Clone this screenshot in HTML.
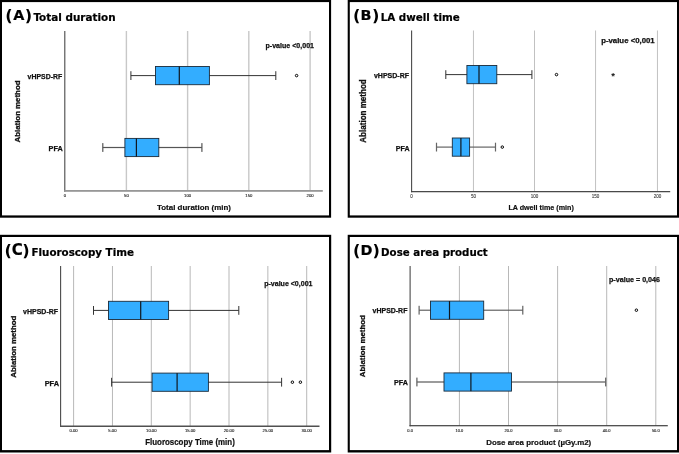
<!DOCTYPE html>
<html><head><meta charset="utf-8"><title>Figure</title>
<style>html,body{margin:0;padding:0;background:#fff;}svg{display:block;}</style></head>
<body><svg width="679" height="454" viewBox="0 0 679 454">
<rect width="679" height="454" fill="#fff"/>
<rect x="0" y="0" width="331.10" height="217.70" fill="#000"/>
<rect x="2.0" y="2.1" width="327.00" height="213.30" fill="#fff"/>
<rect x="125.70" y="31" width="1.4" height="159.90" fill="#c8c8c8"/>
<rect x="186.90" y="31" width="1.4" height="159.90" fill="#c8c8c8"/>
<rect x="248.10" y="31" width="1.4" height="159.90" fill="#c8c8c8"/>
<rect x="309.40" y="31" width="1.4" height="159.90" fill="#c8c8c8"/>
<rect x="130.90" y="75.10" width="144.90" height="1" fill="#333"/>
<rect x="130.40" y="71.20" width="1" height="8.80" fill="#333"/>
<rect x="275.30" y="71.20" width="1" height="8.80" fill="#333"/>
<rect x="155.50" y="66.50" width="53.90" height="18.20" fill="#33adff" stroke="#1a2a3a" stroke-width="0.9"/>
<rect x="178.70" y="66.50" width="1.2" height="18.20" fill="#101820"/>
<circle cx="296.60" cy="75.60" r="1.25" fill="#fff" stroke="#000" stroke-width="1.0"/>
<rect x="102.80" y="146.90" width="99.10" height="1.2" fill="#555"/>
<rect x="102.20" y="143.10" width="1.2" height="8.80" fill="#555"/>
<rect x="201.30" y="143.10" width="1.2" height="8.80" fill="#555"/>
<rect x="124.90" y="138.40" width="33.90" height="18.20" fill="#33adff" stroke="#1a2a3a" stroke-width="0.9"/>
<rect x="135.80" y="138.40" width="1.2" height="18.20" fill="#101820"/>
<rect x="64.25" y="31" width="1.1" height="160.78" fill="#4a4a4a"/>
<rect x="64.20" y="190.03" width="258.60" height="1.75" fill="#959595"/>
<text x="64.80" y="196.90" font-family='"Liberation Sans", Arial, sans-serif' font-size="4.2" text-anchor="middle" fill="#222" stroke="#222" stroke-width="0.12">0</text>
<text x="126.40" y="196.90" font-family='"Liberation Sans", Arial, sans-serif' font-size="4.2" text-anchor="middle" fill="#222" stroke="#222" stroke-width="0.12">50</text>
<text x="187.60" y="196.90" font-family='"Liberation Sans", Arial, sans-serif' font-size="4.2" text-anchor="middle" fill="#222" stroke="#222" stroke-width="0.12">100</text>
<text x="248.80" y="196.90" font-family='"Liberation Sans", Arial, sans-serif' font-size="4.2" text-anchor="middle" fill="#222" stroke="#222" stroke-width="0.12">150</text>
<text x="310.10" y="196.90" font-family='"Liberation Sans", Arial, sans-serif' font-size="4.2" text-anchor="middle" fill="#222" stroke="#222" stroke-width="0.12">200</text>
<text x="62.20" y="78.60" font-family='"Liberation Sans", Arial, sans-serif' font-size="6.9" font-weight="700" text-anchor="end" fill="#111" stroke="#111" stroke-width="0.25" textLength="34.6" lengthAdjust="spacingAndGlyphs">vHPSD-RF</text>
<text x="62.80" y="150.90" font-family='"Liberation Sans", Arial, sans-serif' font-size="6.9" font-weight="700" text-anchor="end" fill="#111" stroke="#111" stroke-width="0.25" textLength="14.2" lengthAdjust="spacingAndGlyphs">PFA</text>
<text transform="translate(19.80,111.50) rotate(-90)" font-family='"Liberation Sans", Arial, sans-serif' font-size="8" font-weight="700" text-anchor="middle" fill="#111" stroke="#111" stroke-width="0.3" textLength="62" lengthAdjust="spacingAndGlyphs">Ablation method</text>
<text x="157.00" y="210.40" font-family='"Liberation Sans", Arial, sans-serif' font-size="8.1" font-weight="700" fill="#111" stroke="#111" stroke-width="0.2" textLength="74.00" lengthAdjust="spacingAndGlyphs">Total duration (min)</text>
<text x="265.50" y="48.00" font-family='"Liberation Sans", Arial, sans-serif' font-size="7.2" font-weight="700" fill="#111" stroke="#111" stroke-width="0.25" textLength="48.50" lengthAdjust="spacingAndGlyphs">p-value &lt;0,001</text>
<text x="5.30" y="21.00" font-family='"DejaVu Sans", Verdana, sans-serif' font-size="16.2" font-weight="700" fill="#000">(</text>
<text x="18.75" y="20.20" font-family='"DejaVu Sans", Verdana, sans-serif' font-size="14.4" font-weight="700" text-anchor="middle" fill="#000" stroke="#000" stroke-width="0.2">A</text>
<text x="32.20" y="21.00" font-family='"DejaVu Sans", Verdana, sans-serif' font-size="16.2" font-weight="700" text-anchor="end" fill="#000">)</text>
<text x="33.40" y="20.60" font-family='"DejaVu Sans", Verdana, sans-serif' font-size="10.3" font-weight="700" fill="#000" stroke="#000" stroke-width="0.2" textLength="82.20" lengthAdjust="spacingAndGlyphs">Total duration</text>
<rect x="347.7" y="0" width="331.50" height="217.70" fill="#000"/>
<rect x="349.8" y="2.1" width="327.20" height="213.30" fill="#fff"/>
<rect x="472.95" y="30.5" width="0.9" height="161.15" fill="#bababa"/>
<rect x="534.05" y="30.5" width="0.9" height="161.15" fill="#bababa"/>
<rect x="595.15" y="30.5" width="0.9" height="161.15" fill="#bababa"/>
<rect x="656.95" y="30.5" width="0.9" height="161.15" fill="#bababa"/>
<rect x="445.80" y="74.10" width="86.10" height="1" fill="#333"/>
<rect x="445.30" y="70.20" width="1" height="8.80" fill="#333"/>
<rect x="531.40" y="70.20" width="1" height="8.80" fill="#333"/>
<rect x="466.90" y="65.50" width="29.90" height="18.20" fill="#33adff" stroke="#1a2a3a" stroke-width="0.9"/>
<rect x="478.40" y="65.50" width="1.2" height="18.20" fill="#101820"/>
<circle cx="556.50" cy="74.60" r="1.25" fill="#fff" stroke="#000" stroke-width="1.0"/>
<text x="613.00" y="78.90" font-family='"Liberation Sans", Arial, sans-serif' font-size="9.5" font-weight="700" text-anchor="middle" fill="#111">*</text>
<rect x="436.50" y="146.50" width="59.00" height="1.2" fill="#666"/>
<rect x="435.90" y="142.70" width="1.2" height="8.80" fill="#666"/>
<rect x="494.90" y="142.70" width="1.2" height="8.80" fill="#666"/>
<rect x="452.30" y="138.00" width="17.30" height="18.20" fill="#33adff" stroke="#1a2a3a" stroke-width="0.9"/>
<rect x="460.30" y="138.00" width="1.2" height="18.20" fill="#101820"/>
<circle cx="502.30" cy="147.10" r="1.25" fill="#fff" stroke="#000" stroke-width="1.0"/>
<rect x="411.05" y="30.5" width="1.1" height="161.75" fill="#4a4a4a"/>
<rect x="411.00" y="191.05" width="259.20" height="1.2" fill="#404040"/>
<text x="411.60" y="197.75" font-family='"Liberation Sans", Arial, sans-serif' font-size="4.5" text-anchor="middle" fill="#333" stroke="#333" stroke-width="0.08">0</text>
<text x="473.40" y="197.75" font-family='"Liberation Sans", Arial, sans-serif' font-size="4.5" text-anchor="middle" fill="#333" stroke="#333" stroke-width="0.08">50</text>
<text x="534.50" y="197.75" font-family='"Liberation Sans", Arial, sans-serif' font-size="4.5" text-anchor="middle" fill="#333" stroke="#333" stroke-width="0.08">100</text>
<text x="595.60" y="197.75" font-family='"Liberation Sans", Arial, sans-serif' font-size="4.5" text-anchor="middle" fill="#333" stroke="#333" stroke-width="0.08">150</text>
<text x="657.40" y="197.75" font-family='"Liberation Sans", Arial, sans-serif' font-size="4.5" text-anchor="middle" fill="#333" stroke="#333" stroke-width="0.08">200</text>
<text x="409.10" y="78.40" font-family='"Liberation Sans", Arial, sans-serif' font-size="6.9" font-weight="700" text-anchor="end" fill="#111" stroke="#111" stroke-width="0.25" textLength="35.2" lengthAdjust="spacingAndGlyphs">vHPSD-RF</text>
<text x="409.60" y="150.50" font-family='"Liberation Sans", Arial, sans-serif' font-size="6.9" font-weight="700" text-anchor="end" fill="#111" stroke="#111" stroke-width="0.25" textLength="13.8" lengthAdjust="spacingAndGlyphs">PFA</text>
<text transform="translate(366.20,111.00) rotate(-90)" font-family='"Liberation Sans", Arial, sans-serif' font-size="8.3" font-weight="700" text-anchor="middle" fill="#111" stroke="#111" stroke-width="0.3" textLength="63.4" lengthAdjust="spacingAndGlyphs">Ablation method</text>
<text x="508.40" y="209.90" font-family='"Liberation Sans", Arial, sans-serif' font-size="7.4" font-weight="700" fill="#111" stroke="#111" stroke-width="0.2" textLength="65.40" lengthAdjust="spacingAndGlyphs">LA dwell time (min)</text>
<text x="601.20" y="42.70" font-family='"Liberation Sans", Arial, sans-serif' font-size="7.2" font-weight="700" fill="#111" stroke="#111" stroke-width="0.25" textLength="53.50" lengthAdjust="spacingAndGlyphs">p-value &lt;0,001</text>
<text x="353.05" y="21.25" font-family='"DejaVu Sans", Verdana, sans-serif' font-size="16.2" font-weight="700" fill="#000">(</text>
<text x="366.10" y="20.45" font-family='"DejaVu Sans", Verdana, sans-serif' font-size="14.4" font-weight="700" text-anchor="middle" fill="#000" stroke="#000" stroke-width="0.2">B</text>
<text x="379.30" y="21.25" font-family='"DejaVu Sans", Verdana, sans-serif' font-size="16.2" font-weight="700" text-anchor="end" fill="#000">)</text>
<text x="380.70" y="20.85" font-family='"DejaVu Sans", Verdana, sans-serif' font-size="10.3" font-weight="700" fill="#000" stroke="#000" stroke-width="0.2" textLength="79.00" lengthAdjust="spacingAndGlyphs">LA dwell time</text>
<rect x="0" y="234.8" width="331.20" height="217.70" fill="#000"/>
<rect x="2.0" y="237.0" width="327.00" height="213.10" fill="#fff"/>
<rect x="73.10" y="266" width="1.0" height="160.25" fill="#b8b8b8"/>
<rect x="111.95" y="266" width="1.0" height="160.25" fill="#b8b8b8"/>
<rect x="150.80" y="266" width="1.0" height="160.25" fill="#b8b8b8"/>
<rect x="189.65" y="266" width="1.0" height="160.25" fill="#b8b8b8"/>
<rect x="228.50" y="266" width="1.0" height="160.25" fill="#b8b8b8"/>
<rect x="267.35" y="266" width="1.0" height="160.25" fill="#b8b8b8"/>
<rect x="306.20" y="266" width="1.0" height="160.25" fill="#b8b8b8"/>
<rect x="93.50" y="309.90" width="145.30" height="1" fill="#333"/>
<rect x="93.00" y="306.00" width="1" height="8.80" fill="#333"/>
<rect x="238.30" y="306.00" width="1" height="8.80" fill="#333"/>
<rect x="108.50" y="301.30" width="60.10" height="18.20" fill="#33adff" stroke="#1a2a3a" stroke-width="0.9"/>
<rect x="140.10" y="301.30" width="1.2" height="18.20" fill="#101820"/>
<rect x="111.60" y="381.70" width="170.00" height="1" fill="#333"/>
<rect x="111.10" y="377.80" width="1" height="8.80" fill="#333"/>
<rect x="281.10" y="377.80" width="1" height="8.80" fill="#333"/>
<rect x="152.10" y="373.10" width="56.30" height="18.20" fill="#33adff" stroke="#1a2a3a" stroke-width="0.9"/>
<rect x="176.50" y="373.10" width="1.2" height="18.20" fill="#101820"/>
<circle cx="292.40" cy="382.20" r="1.25" fill="#fff" stroke="#000" stroke-width="1.0"/>
<circle cx="300.40" cy="382.20" r="1.25" fill="#fff" stroke="#000" stroke-width="1.0"/>
<rect x="60.05" y="266" width="1.1" height="161.00" fill="#4a4a4a"/>
<rect x="60.00" y="425.50" width="259.50" height="1.5" fill="#505050"/>
<text x="73.60" y="431.95" font-family='"Liberation Sans", Arial, sans-serif' font-size="4.2" text-anchor="middle" fill="#222" stroke="#222" stroke-width="0.12">0.00</text>
<text x="112.45" y="431.95" font-family='"Liberation Sans", Arial, sans-serif' font-size="4.2" text-anchor="middle" fill="#222" stroke="#222" stroke-width="0.12">5.00</text>
<text x="151.30" y="431.95" font-family='"Liberation Sans", Arial, sans-serif' font-size="4.2" text-anchor="middle" fill="#222" stroke="#222" stroke-width="0.12">10.00</text>
<text x="190.15" y="431.95" font-family='"Liberation Sans", Arial, sans-serif' font-size="4.2" text-anchor="middle" fill="#222" stroke="#222" stroke-width="0.12">15.00</text>
<text x="229.00" y="431.95" font-family='"Liberation Sans", Arial, sans-serif' font-size="4.2" text-anchor="middle" fill="#222" stroke="#222" stroke-width="0.12">20.00</text>
<text x="267.85" y="431.95" font-family='"Liberation Sans", Arial, sans-serif' font-size="4.2" text-anchor="middle" fill="#222" stroke="#222" stroke-width="0.12">25.00</text>
<text x="306.70" y="431.95" font-family='"Liberation Sans", Arial, sans-serif' font-size="4.2" text-anchor="middle" fill="#222" stroke="#222" stroke-width="0.12">30.00</text>
<text x="58.10" y="314.20" font-family='"Liberation Sans", Arial, sans-serif' font-size="6.9" font-weight="700" text-anchor="end" fill="#111" stroke="#111" stroke-width="0.25" textLength="35" lengthAdjust="spacingAndGlyphs">vHPSD-RF</text>
<text x="59.10" y="385.70" font-family='"Liberation Sans", Arial, sans-serif' font-size="6.9" font-weight="700" text-anchor="end" fill="#111" stroke="#111" stroke-width="0.25" textLength="14.4" lengthAdjust="spacingAndGlyphs">PFA</text>
<text transform="translate(16.40,346.70) rotate(-90)" font-family='"Liberation Sans", Arial, sans-serif' font-size="8" font-weight="700" text-anchor="middle" fill="#111" stroke="#111" stroke-width="0.3" textLength="62" lengthAdjust="spacingAndGlyphs">Ablation method</text>
<text x="145.20" y="445.40" font-family='"Liberation Sans", Arial, sans-serif' font-size="8.3" font-weight="700" fill="#111" stroke="#111" stroke-width="0.2" textLength="89.60" lengthAdjust="spacingAndGlyphs">Fluoroscopy Time (min)</text>
<text x="264.20" y="285.50" font-family='"Liberation Sans", Arial, sans-serif' font-size="7.2" font-weight="700" fill="#111" stroke="#111" stroke-width="0.25" textLength="48.30" lengthAdjust="spacingAndGlyphs">p-value &lt;0,001</text>
<text x="4.50" y="255.90" font-family='"DejaVu Sans", Verdana, sans-serif' font-size="16.2" font-weight="700" fill="#000">(</text>
<text x="17.20" y="255.10" font-family='"DejaVu Sans", Verdana, sans-serif' font-size="15" font-weight="700" text-anchor="middle" fill="#000" stroke="#000" stroke-width="0.2">C</text>
<text x="29.70" y="255.90" font-family='"DejaVu Sans", Verdana, sans-serif' font-size="16.2" font-weight="700" text-anchor="end" fill="#000">)</text>
<text x="31.50" y="255.50" font-family='"DejaVu Sans", Verdana, sans-serif' font-size="10.3" font-weight="700" fill="#000" stroke="#000" stroke-width="0.2" textLength="102.40" lengthAdjust="spacingAndGlyphs">Fluoroscopy Time</text>
<rect x="347.7" y="234.8" width="331.50" height="217.70" fill="#000"/>
<rect x="349.8" y="237.0" width="327.20" height="213.10" fill="#fff"/>
<rect x="458.90" y="266" width="1.0" height="159.70" fill="#b8b8b8"/>
<rect x="508.00" y="266" width="1.0" height="159.70" fill="#b8b8b8"/>
<rect x="557.10" y="266" width="1.0" height="159.70" fill="#b8b8b8"/>
<rect x="606.20" y="266" width="1.0" height="159.70" fill="#b8b8b8"/>
<rect x="655.30" y="266" width="1.0" height="159.70" fill="#b8b8b8"/>
<rect x="419.10" y="309.65" width="103.70" height="1.1" fill="#555"/>
<rect x="418.55" y="305.80" width="1.1" height="8.80" fill="#555"/>
<rect x="522.25" y="305.80" width="1.1" height="8.80" fill="#555"/>
<rect x="430.50" y="301.10" width="53.20" height="18.20" fill="#33adff" stroke="#1a2a3a" stroke-width="0.9"/>
<rect x="448.90" y="301.10" width="1.2" height="18.20" fill="#101820"/>
<circle cx="636.40" cy="310.20" r="1.25" fill="#fff" stroke="#000" stroke-width="1.0"/>
<rect x="416.90" y="381.35" width="188.80" height="1.3" fill="#666"/>
<rect x="416.25" y="377.60" width="1.3" height="8.80" fill="#666"/>
<rect x="605.05" y="377.60" width="1.3" height="8.80" fill="#666"/>
<rect x="444.00" y="372.90" width="67.50" height="18.20" fill="#33adff" stroke="#1a2a3a" stroke-width="0.9"/>
<rect x="470.30" y="372.90" width="1.2" height="18.20" fill="#101820"/>
<rect x="409.55" y="266" width="1.1" height="160.30" fill="#4a4a4a"/>
<rect x="409.50" y="425.10" width="258.30" height="1.2" fill="#404040"/>
<text x="410.10" y="431.70" font-family='"Liberation Sans", Arial, sans-serif' font-size="4.0" text-anchor="middle" fill="#222" stroke="#222" stroke-width="0.12">0.0</text>
<text x="459.40" y="431.70" font-family='"Liberation Sans", Arial, sans-serif' font-size="4.0" text-anchor="middle" fill="#222" stroke="#222" stroke-width="0.12">10.0</text>
<text x="508.50" y="431.70" font-family='"Liberation Sans", Arial, sans-serif' font-size="4.0" text-anchor="middle" fill="#222" stroke="#222" stroke-width="0.12">20.0</text>
<text x="557.60" y="431.70" font-family='"Liberation Sans", Arial, sans-serif' font-size="4.0" text-anchor="middle" fill="#222" stroke="#222" stroke-width="0.12">30.0</text>
<text x="606.70" y="431.70" font-family='"Liberation Sans", Arial, sans-serif' font-size="4.0" text-anchor="middle" fill="#222" stroke="#222" stroke-width="0.12">40.0</text>
<text x="655.80" y="431.70" font-family='"Liberation Sans", Arial, sans-serif' font-size="4.0" text-anchor="middle" fill="#222" stroke="#222" stroke-width="0.12">50.0</text>
<text x="407.40" y="313.30" font-family='"Liberation Sans", Arial, sans-serif' font-size="6.9" font-weight="700" text-anchor="end" fill="#111" stroke="#111" stroke-width="0.25" textLength="34.8" lengthAdjust="spacingAndGlyphs">vHPSD-RF</text>
<text x="408.00" y="385.40" font-family='"Liberation Sans", Arial, sans-serif' font-size="6.9" font-weight="700" text-anchor="end" fill="#111" stroke="#111" stroke-width="0.25" textLength="14.0" lengthAdjust="spacingAndGlyphs">PFA</text>
<text transform="translate(365.30,346.20) rotate(-90)" font-family='"Liberation Sans", Arial, sans-serif' font-size="8" font-weight="700" text-anchor="middle" fill="#111" stroke="#111" stroke-width="0.3" textLength="62" lengthAdjust="spacingAndGlyphs">Ablation method</text>
<text x="486.20" y="445.20" font-family='"Liberation Sans", Arial, sans-serif' font-size="8.1" font-weight="700" fill="#111" stroke="#111" stroke-width="0.2" textLength="105.00" lengthAdjust="spacingAndGlyphs">Dose area product (µGy.m2)</text>
<text x="609.00" y="282.10" font-family='"Liberation Sans", Arial, sans-serif' font-size="7.2" font-weight="700" fill="#111" stroke="#111" stroke-width="0.25" textLength="51.00" lengthAdjust="spacingAndGlyphs">p-value = 0,046</text>
<text x="353.05" y="256.00" font-family='"DejaVu Sans", Verdana, sans-serif' font-size="16.2" font-weight="700" fill="#000">(</text>
<text x="366.45" y="255.20" font-family='"DejaVu Sans", Verdana, sans-serif' font-size="14.4" font-weight="700" text-anchor="middle" fill="#000" stroke="#000" stroke-width="0.2">D</text>
<text x="380.00" y="256.00" font-family='"DejaVu Sans", Verdana, sans-serif' font-size="16.2" font-weight="700" text-anchor="end" fill="#000">)</text>
<text x="381.10" y="255.60" font-family='"DejaVu Sans", Verdana, sans-serif' font-size="10.3" font-weight="700" fill="#000" stroke="#000" stroke-width="0.2" textLength="106.60" lengthAdjust="spacingAndGlyphs">Dose area product</text>
</svg></body></html>
